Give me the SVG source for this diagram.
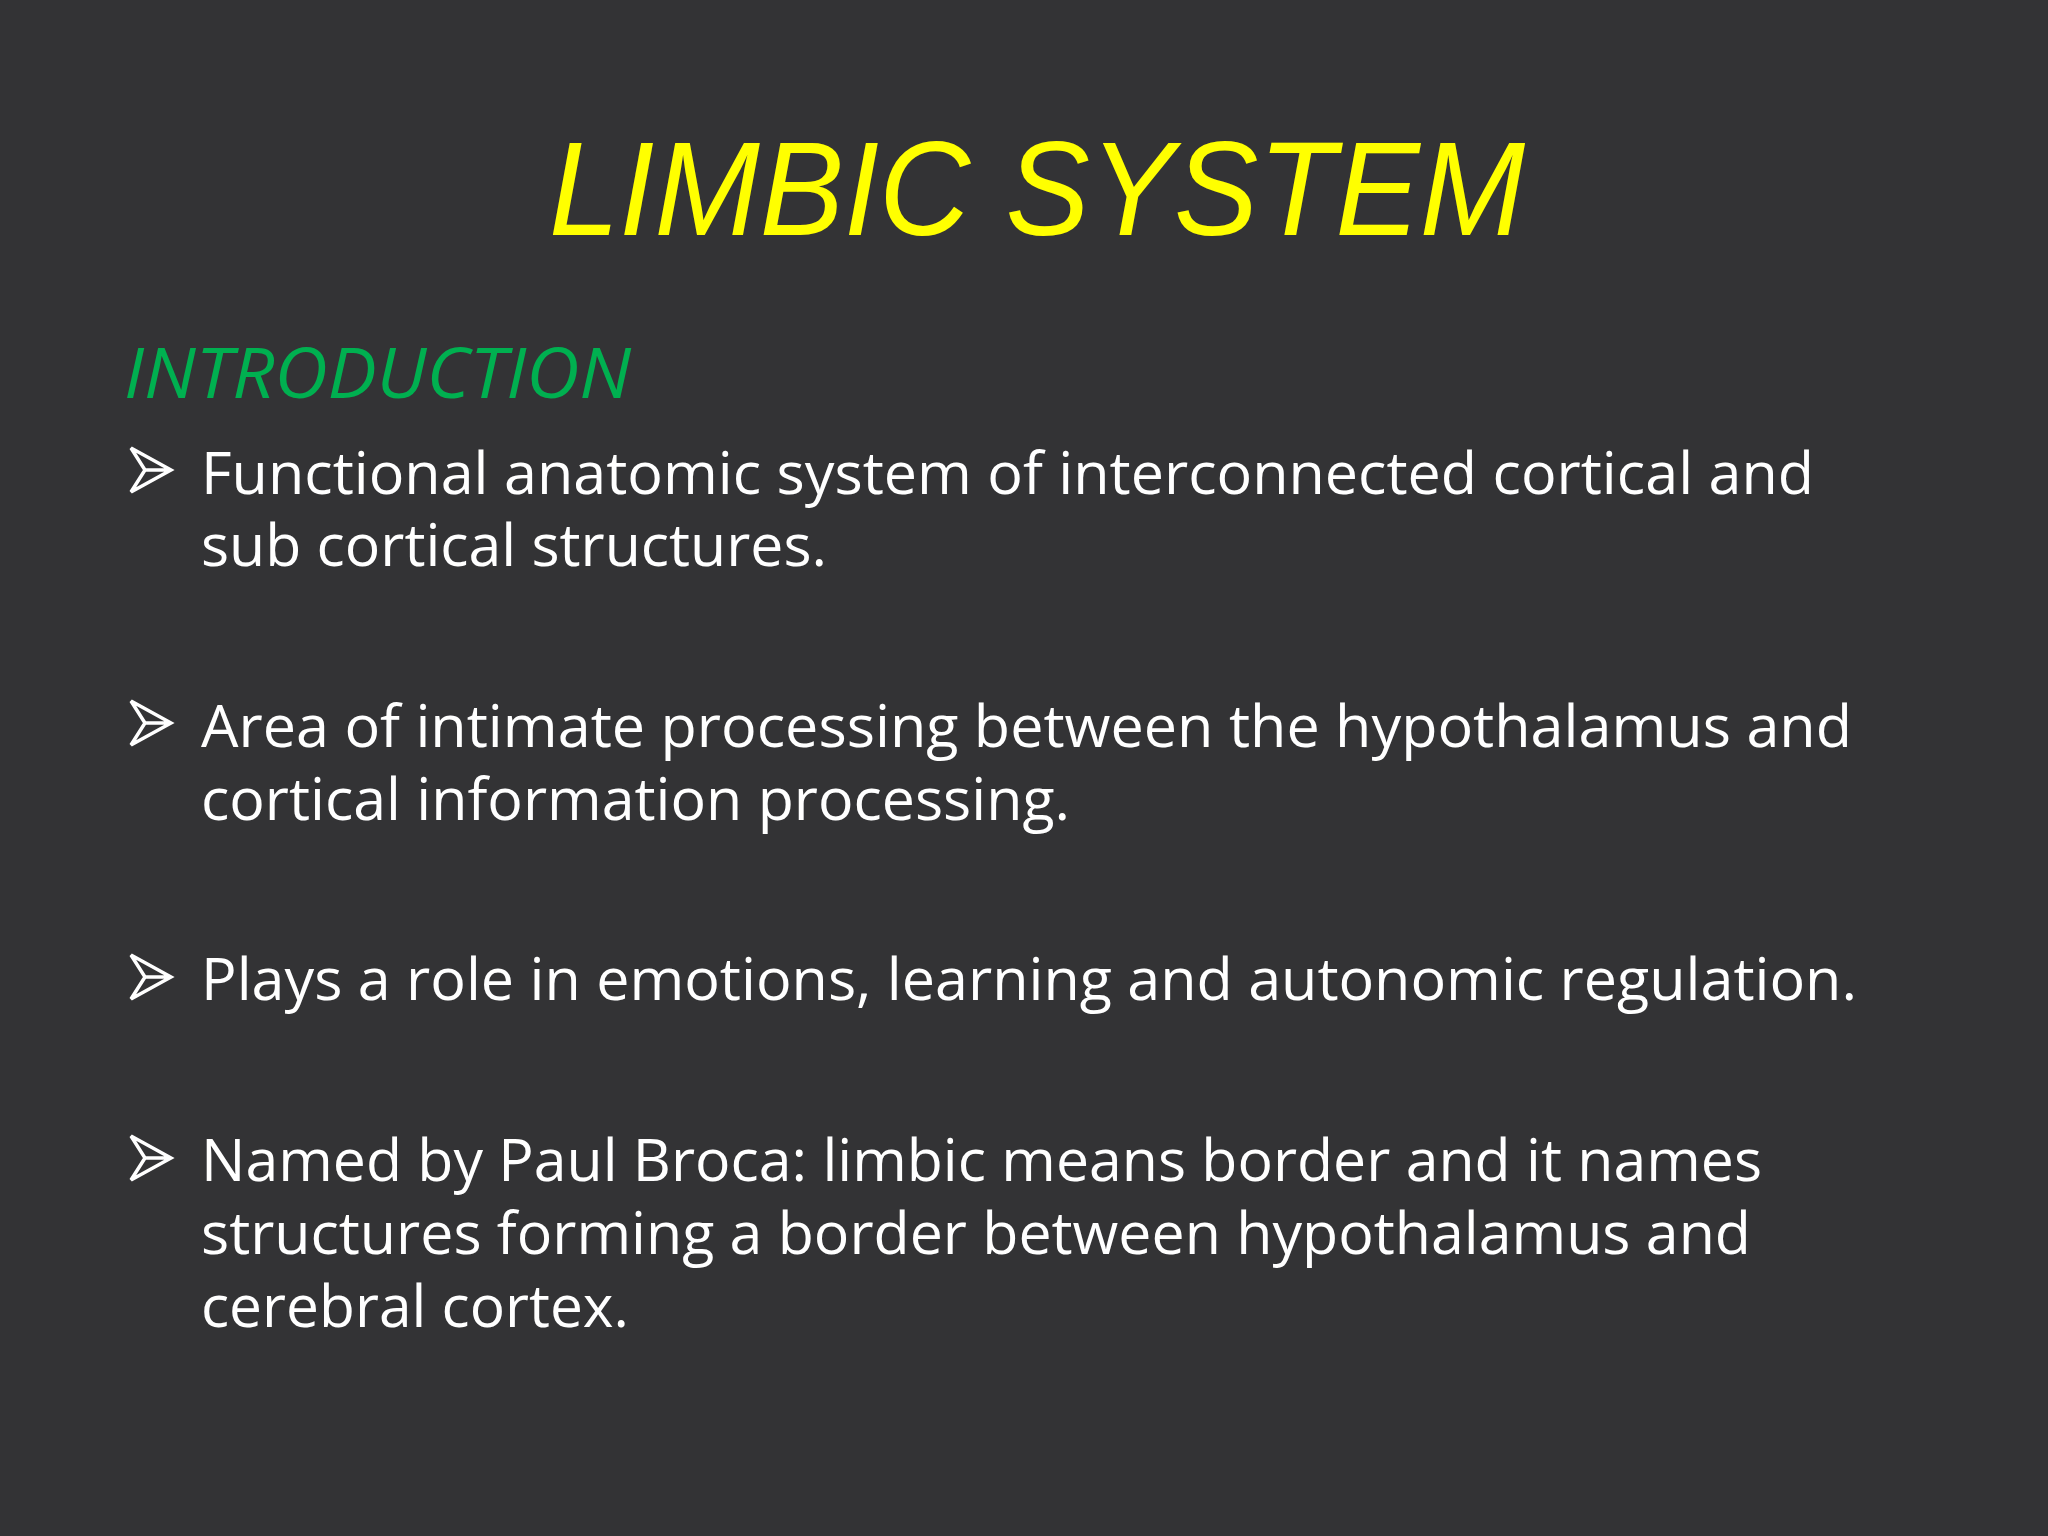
<svg xmlns="http://www.w3.org/2000/svg" width="2048" height="1536" viewBox="0 0 2048 1536">
<defs>
<style>
.t{font-family:"Open Sans","Liberation Sans",sans-serif;font-size:58px;fill:#ffffff}
</style>
<g id="arrow"><path d="M0,-22 L40,0 L0,22 L14,0 Z M14,0 L40,0" fill="none" stroke="#ffffff" stroke-width="3.5" stroke-linejoin="miter"/></g>
</defs>
<rect width="2048" height="1536" fill="#333335"/>
<text x="549" y="235" font-family="Liberation Sans, Arial, sans-serif" font-style="italic" font-size="134" fill="#ffff00" textLength="976" lengthAdjust="spacingAndGlyphs">LIMBIC SYSTEM</text>
<text x="124" y="398" font-family="Open Sans, Liberation Sans, sans-serif" font-style="italic" font-size="70" fill="#00b050" textLength="507" lengthAdjust="spacingAndGlyphs">INTRODUCTION</text>
<use href="#arrow" x="131" y="470"/>
<use href="#arrow" x="131" y="723"/>
<use href="#arrow" x="131" y="977"/>
<use href="#arrow" x="131" y="1158"/>
<text class="t" x="201" y="494" textLength="1613" lengthAdjust="spacingAndGlyphs">Functional anatomic system of interconnected cortical and</text>
<text class="t" x="201" y="566" textLength="626" lengthAdjust="spacingAndGlyphs">sub cortical structures.</text>
<text class="t" x="201" y="747" textLength="1651" lengthAdjust="spacingAndGlyphs">Area of intimate processing between the hypothalamus and</text>
<text class="t" x="201" y="820" textLength="869" lengthAdjust="spacingAndGlyphs">cortical information processing.</text>
<text class="t" x="201" y="1000" textLength="1656" lengthAdjust="spacingAndGlyphs">Plays a role in emotions, learning and autonomic regulation.</text>
<text class="t" x="201" y="1181" textLength="1561" lengthAdjust="spacingAndGlyphs">Named by Paul Broca: limbic means border and it names</text>
<text class="t" x="201" y="1254" textLength="1550" lengthAdjust="spacingAndGlyphs">structures forming a border between hypothalamus and</text>
<text class="t" x="201" y="1327" textLength="428" lengthAdjust="spacingAndGlyphs">cerebral cortex.</text>
</svg>
